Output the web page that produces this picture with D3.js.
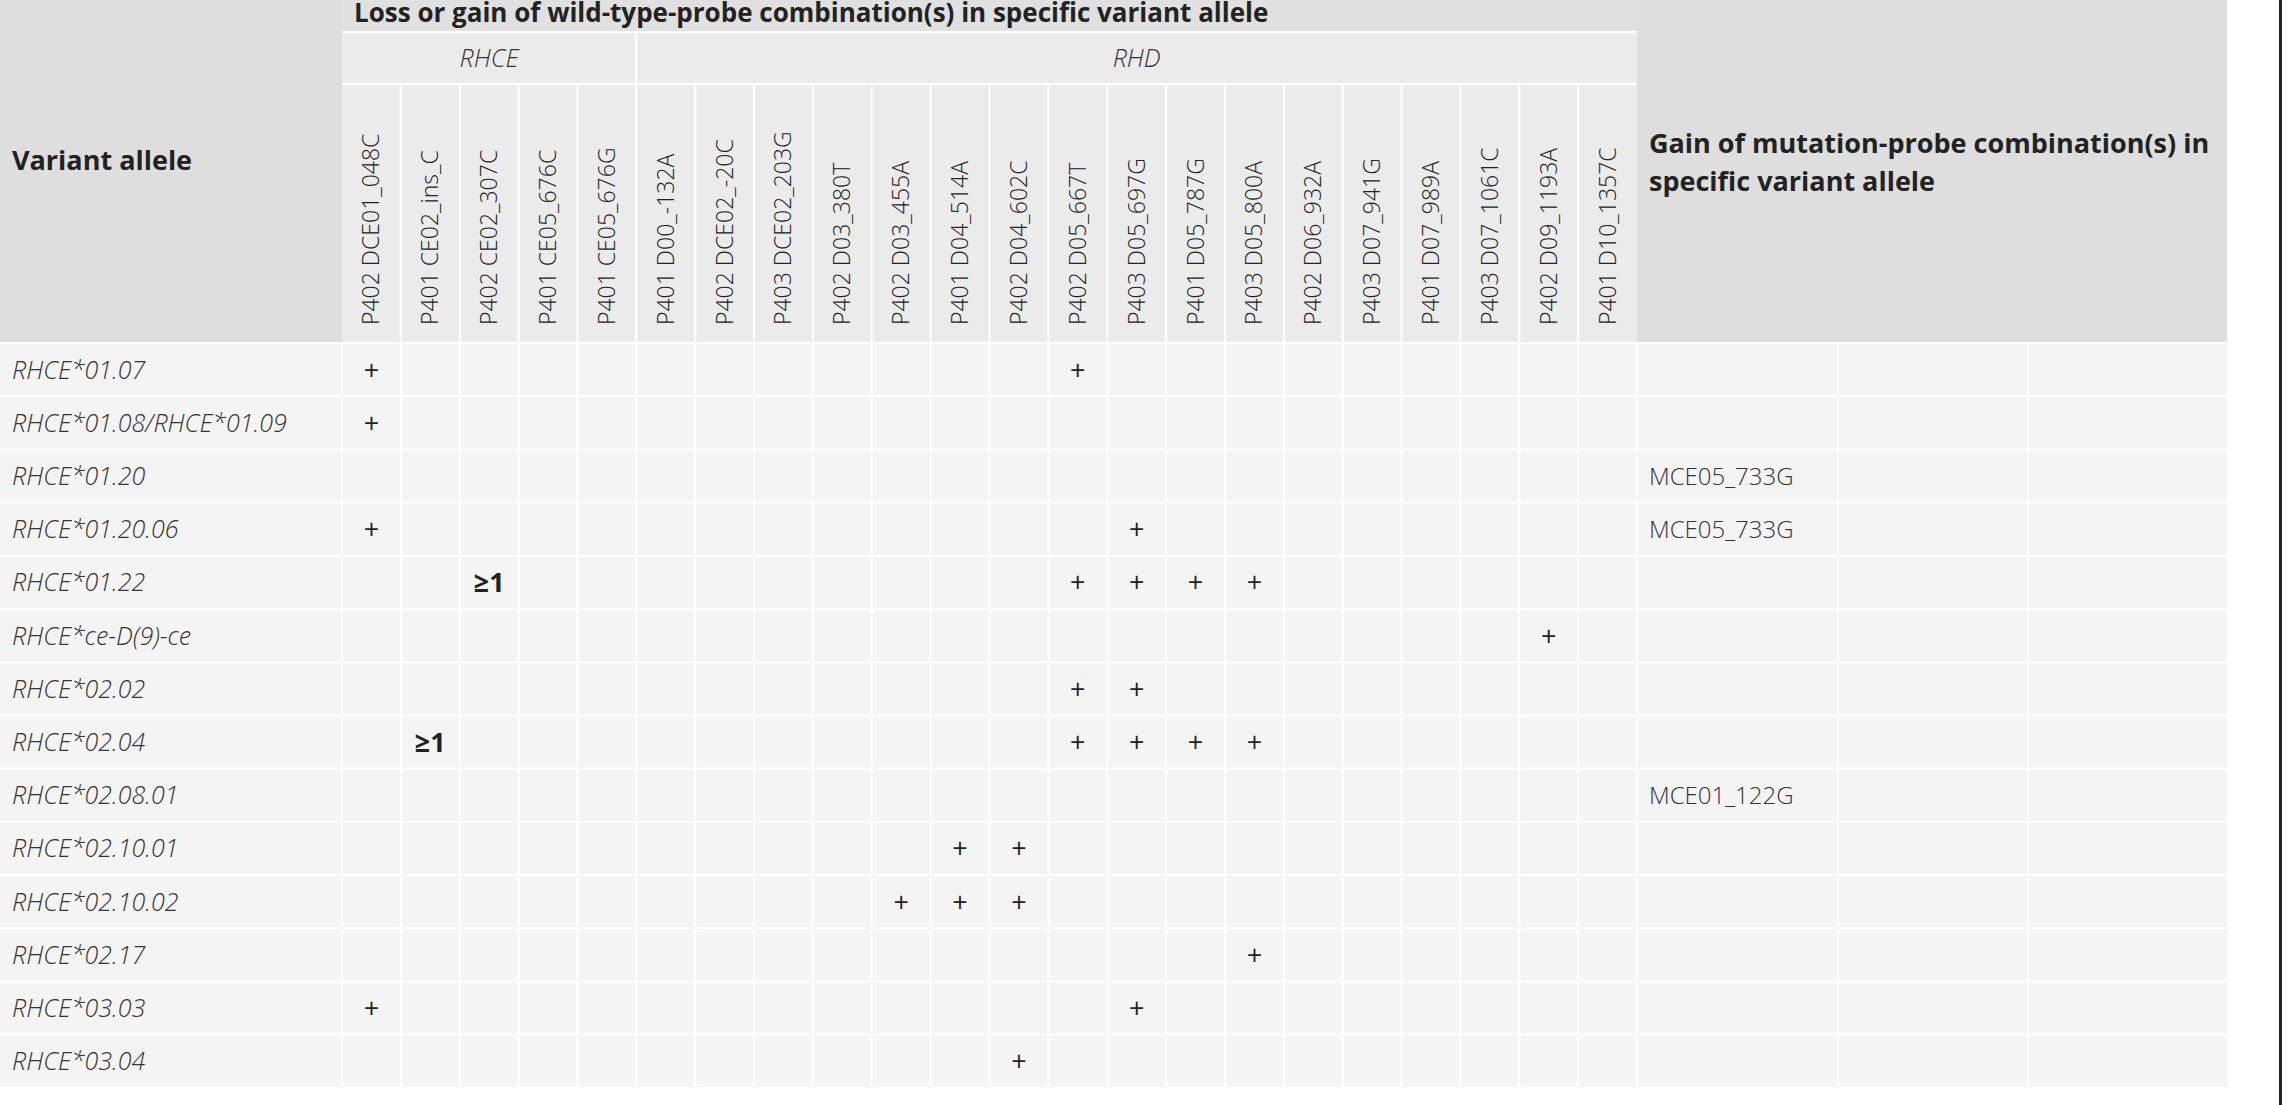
<!DOCTYPE html>
<html><head><meta charset="utf-8">
<script src="https://cdn.jsdelivr.net/npm/d3@7"></script>
<style>body{margin:0;background:#fff}svg{display:block}text{font-family:"Open Sans","Liberation Sans",sans-serif}</style>
</head><body><svg id="c" width="2293" height="1105"></svg>
<script>
const probes=["P402 DCE01_048C","P401 CE02_ins_C","P402 CE02_307C","P401 CE05_676C","P401 CE05_676G","P401 D00_-132A","P402 DCE02_-20C","P403 DCE02_203G","P402 D03_380T","P402 D03_455A","P401 D04_514A","P402 D04_602C","P402 D05_667T","P403 D05_697G","P401 D05_787G","P403 D05_800A","P402 D06_932A","P403 D07_941G","P401 D07_989A","P403 D07_1061C","P402 D09_1193A","P401 D10_1357C"];
const genes=[{name:"RHCE",from:0,to:5},{name:"RHD",from:5,to:22}];
const alleles=["RHCE*01.07","RHCE*01.08/RHCE*01.09","RHCE*01.20","RHCE*01.20.06","RHCE*01.22","RHCE*ce-D(9)-ce","RHCE*02.02","RHCE*02.04","RHCE*02.08.01","RHCE*02.10.01","RHCE*02.10.02","RHCE*02.17","RHCE*03.03","RHCE*03.04"];
// marks: [row, column, symbol]
const marks=[[0,0,"+"],[0,12,"+"],[1,0,"+"],[3,0,"+"],[3,13,"+"],[4,2,"≥1"],[4,12,"+"],[4,13,"+"],[4,14,"+"],[4,15,"+"],[5,20,"+"],[6,12,"+"],[6,13,"+"],[7,1,"≥1"],[7,12,"+"],[7,13,"+"],[7,14,"+"],[7,15,"+"],[9,10,"+"],[9,11,"+"],[10,9,"+"],[10,10,"+"],[10,11,"+"],[11,15,"+"],[12,0,"+"],[12,13,"+"],[13,11,"+"]];
const gains=[[2,"MCE05_733G"],[3,"MCE05_733G"],[8,"MCE01_122G"]];
const titleLoss="Loss or gain of wild-type-probe combination(s) in specific variant allele";
const titleGain=["Gain of mutation-probe combination(s) in","specific variant allele"];
const titleVar="Variant allele";

const svg=d3.select("#c");
const L=342,R=1637,RE=2227,HB=342;
const x=d3.scaleBand().domain(d3.range(probes.length)).range([L,R]);
const y=d3.scaleBand().domain(d3.range(alleles.length)).range([HB+2,HB+2+14*53.2]);
const gx=[R,1838,2028,RE];
svg.append("rect").attr("x",0).attr("y",0).attr("width",L).attr("height",HB).attr("fill","#dedede");
svg.append("rect").attr("x",R).attr("y",0).attr("width",RE-R).attr("height",HB).attr("fill","#dedede");
svg.append("rect").attr("x",L).attr("y",0).attr("width",R-L).attr("height",31).attr("fill","#e0e0e0");
svg.append("rect").attr("x",L).attr("y",33).attr("width",R-L).attr("height",HB-33).attr("fill","#ebebeb");
genes.forEach(g=>{
  const x0=x(g.from), x1=g.to<probes.length?x(g.to):R;
  svg.append("text").attr("x",(x0+x1)/2).attr("y",67).attr("text-anchor","middle").attr("font-size",25).attr("font-style","italic").attr("font-weight",300).attr("fill","#333").text(g.name);
  if(g.from>0) svg.append("line").attr("x1",x0).attr("x2",x0).attr("y1",33).attr("y2",84).attr("stroke","#fff").attr("stroke-width",2);
});
svg.append("line").attr("x1",L).attr("x2",R).attr("y1",84).attr("y2",84).attr("stroke","#fff").attr("stroke-width",2);
probes.forEach((p,i)=>{
  const cx=x(i)+x.bandwidth()/2;
  if(i>0) svg.append("line").attr("x1",x(i)).attr("x2",x(i)).attr("y1",84).attr("y2",HB).attr("stroke","#fff").attr("stroke-width",2);
  svg.append("text").attr("transform",`translate(${cx+8},325) rotate(-90)`).attr("font-size",23).attr("font-weight",300).attr("fill","#222").text(p);
});
svg.append("text").attr("x",L+12).attr("y",22).attr("font-size",26).attr("font-weight",700).attr("fill","#222").text(titleLoss);
svg.append("text").attr("x",12).attr("y",170).attr("font-size",27).attr("font-weight",700).attr("fill","#222").text(titleVar);
titleGain.forEach((t,i)=>svg.append("text").attr("x",R+12).attr("y",153+i*38).attr("font-size",27).attr("font-weight",700).attr("fill","#222").text(t));
alleles.forEach((a,r)=>{
  svg.append("rect").attr("x",0).attr("y",y(r)).attr("width",RE).attr("height",y.bandwidth()-2).attr("fill","#f4f4f4");
  svg.append("text").attr("x",12).attr("y",y(r)+y.bandwidth()/2+8).attr("font-size",25).attr("font-style","italic").attr("font-weight",300).attr("fill","#333").text(a);
});
const vl=[...d3.range(probes.length).map(i=>x(i)),R,gx[1],gx[2]];
vl.forEach(v=>svg.append("line").attr("x1",v).attr("x2",v).attr("y1",HB).attr("y2",1105).attr("stroke","#fff").attr("stroke-width",2));
marks.forEach(([r,c,s])=>svg.append("text").attr("x",x(c)+x.bandwidth()/2).attr("y",y(r)+y.bandwidth()/2+9).attr("text-anchor","middle").attr("font-size",27).attr("font-weight",s==="+"?400:700).attr("fill","#222").text(s));
gains.forEach(([r,t])=>svg.append("text").attr("x",R+12).attr("y",y(r)+y.bandwidth()/2+8).attr("font-size",24).attr("font-weight",300).attr("fill","#333").text(t));
svg.append("rect").attr("x",2279).attr("y",0).attr("width",3).attr("height",1105).attr("fill","#222");
</script></body></html>
